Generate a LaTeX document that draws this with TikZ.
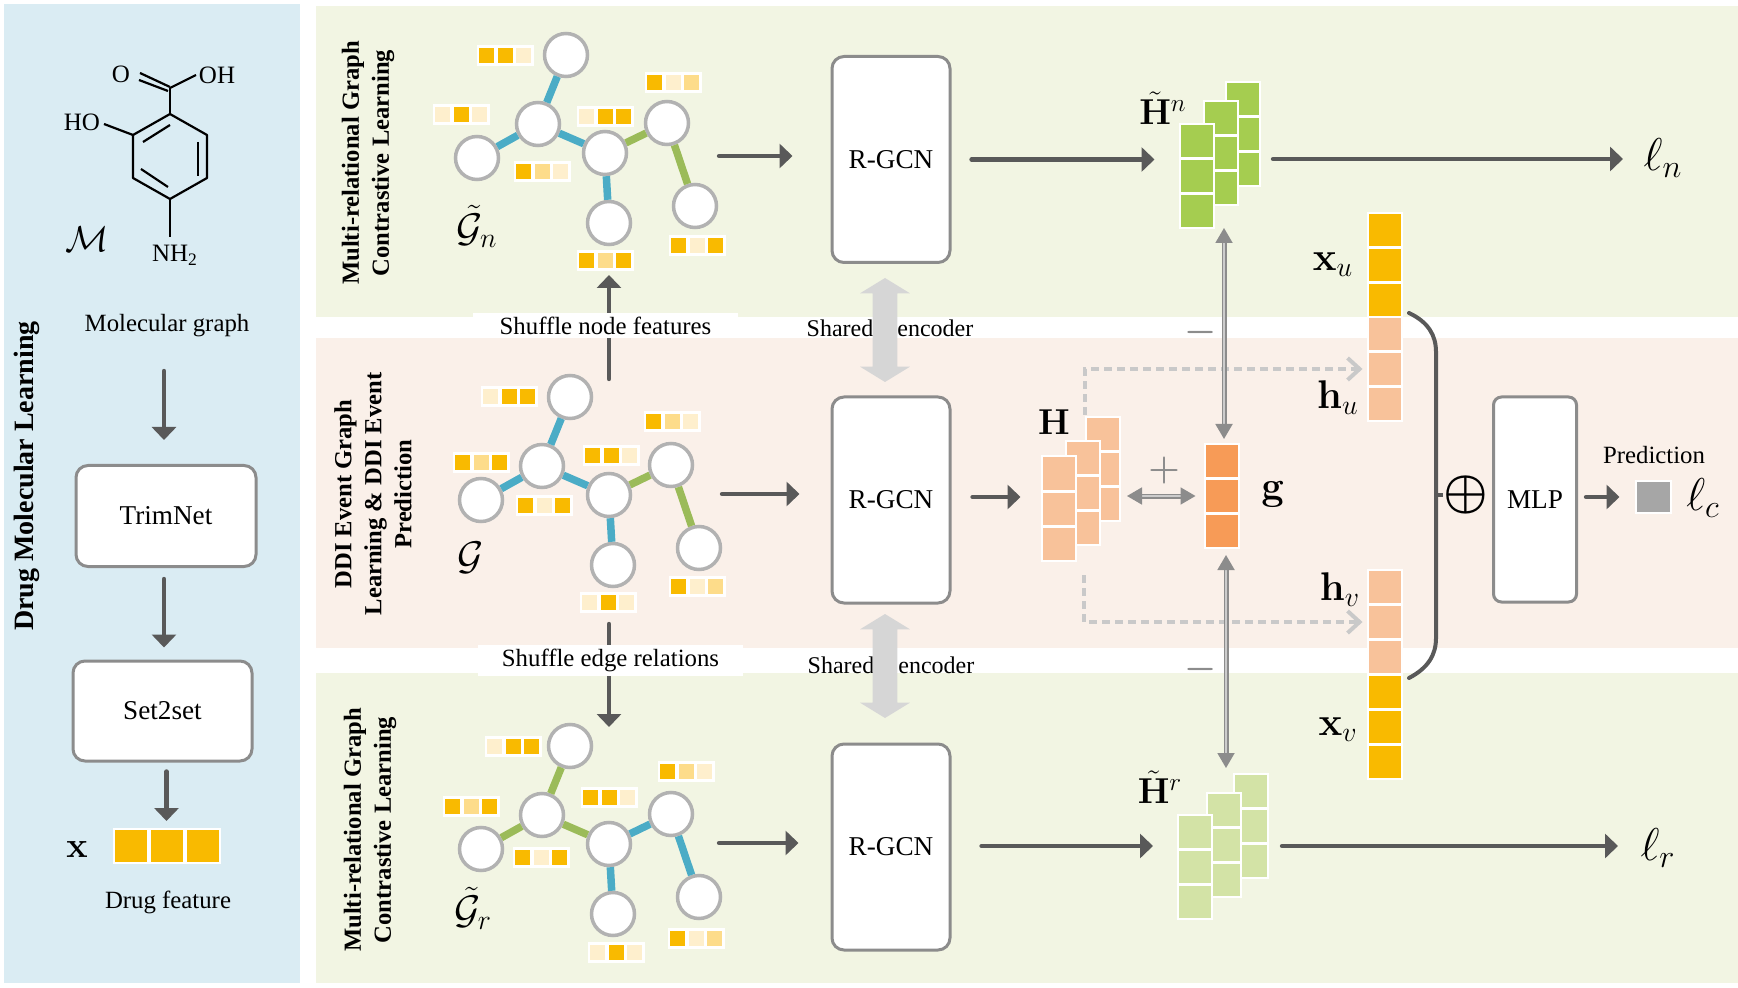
\RequirePackage{fix-cm}
\documentclass[tikz,border=0pt]{standalone}
\usepackage[no-math]{fontspec}
\usepackage{amsmath}
\setmainfont{Liberation Serif}
\usetikzlibrary{shapes,shapes.arrows,arrows.meta,positioning,calc}

\definecolor{panelblue}{HTML}{DAECF3}
\definecolor{bandgreen}{HTML}{F2F5E3}
\definecolor{bandpeach}{HTML}{FAF0E9}
\definecolor{featd}{HTML}{F9BA00}
\definecolor{featm}{HTML}{FDDC8A}
\definecolor{featp}{HTML}{FEEFCD}
\definecolor{relblue}{HTML}{4BACC6}
\definecolor{relgreen}{HTML}{9BBB59}
\definecolor{cellgreen}{HTML}{A5CD50}
\definecolor{cellpale}{HTML}{D3E3A6}
\definecolor{cellpeach}{HTML}{F8C29A}
\definecolor{cellorange}{HTML}{F79B57}
\definecolor{flowgray}{HTML}{595959}
\definecolor{twogray}{HTML}{8C8C8C}
\definecolor{skipgray}{HTML}{C9C9C9}

\tikzset{
    txt/.style={font=\fontsize{12.4}{14}\selectfont, inner sep=0pt},
    box/.style={rectangle, rounded corners=6pt, draw=twogray, line width=1.5pt, fill=white, inner sep=0pt, font=\fontsize{13.6}{15}\selectfont},
    side/.style={rotate=90, align=center, inner sep=0pt, font=\fontsize{12.3}{15}\selectfont\bfseries},
    sym/.style={inner sep=0pt, font=\fontsize{18}{20}\selectfont},
    boldsym/.style={inner sep=0pt, font=\fontsize{20}{22}\selectfont},
    loss/.style={inner sep=0pt, font=\fontsize{23}{25}\selectfont},
    atom/.style={circle, draw=black!30, line width=1.75pt, fill=white, minimum size=21.5pt, inner sep=0pt},
    rel/.style={draw=#1, line width=3.75pt},
    barback/.style={rectangle, fill=white, minimum width=28.5pt, minimum height=10.5pt, inner sep=0pt},
    barcell/.style={rectangle, minimum size=7.5pt, inner sep=0pt},
    cell/.style={rectangle, draw=white, line width=1pt, minimum size=17pt, inner sep=0pt, outer sep=0pt},
    flow/.style={draw=flowgray, line width=2.2pt, line cap=round, -{Triangle[width=12pt,length=6.5pt]}},
    twoway/.style={draw=twogray, line width=0.9pt, double=black!20, double distance=0.7pt, {Triangle[width=8.5pt,length=7.5pt]}-{Triangle[width=8.5pt,length=7.5pt]}},
    skip/.style={draw=skipgray, line width=2.2pt, dash pattern=on 4pt off 2.5pt, -{Straight Barb[width=11pt,length=6pt,line width=2pt]}},
    shared/.style={double arrow, fill=black!16, inner xsep=0pt, inner ysep=6pt, rotate=90, minimum height=52pt, double arrow head extend=6.25pt, double arrow tip angle=117},
    bond/.style={draw=black, line width=1.1pt},
}

% feature bar of three small squares
\newcommand{\featbar}[5]{%
    \node[barback] (#1) at (#2) {};
    \node[barcell, fill=#4] (#1b) at (#1) {};
    \node[barcell, fill=#3, left=1.25pt of #1b] (#1a) {};
    \node[barcell, fill=#5, right=1.25pt of #1b] (#1c) {};
}
% column of three cells
\newcommand{\cellcol}[3]{%
    \node[cell, fill=#3] (#1a) at (#2) {};
    \node[cell, fill=#3, below=0.5pt of #1a] (#1b) {};
    \node[cell, fill=#3, below=0.5pt of #1b] (#1c) {};
}
% seven-node relation graph
\newcommand{\relgraph}[5]{%
    \begin{scope}[shift={(#2)}]
        \node[atom] (#1a) at (566,55) {};
        \node[atom] (#1b) at (538,124) {};
        \node[atom] (#1c) at (477,158) {};
        \node[atom] (#1d) at (605,153) {};
        \node[atom] (#1e) at (667,123) {};
        \node[atom] (#1f) at (695,206) {};
        \node[atom] (#1g) at (609,223) {};
    \end{scope}
    \draw[rel=#3] (#1a) -- (#1b);
    \draw[rel=#3] (#1b) -- (#1c);
    \draw[rel=#3] (#1b) -- (#1d);
    \draw[rel=#4] (#1d) -- (#1g);
    \draw[rel=#5] (#1d) -- (#1e);
    \draw[rel=#5] (#1e) -- (#1f);
}

\begin{document}
\begin{tikzpicture}[x=0.5pt, y=-0.5pt]
    \useasboundingbox (0,0) rectangle (1738,988);

    % panels
    \fill[panelblue] (4,4) rectangle (300,983);
    \fill[bandgreen] (316,6) rectangle (1738,317);
    \fill[bandpeach] (316,338) rectangle (1738,648);
    \fill[bandgreen] (316,673) rectangle (1738,983);

    \node[side, font=\fontsize{14}{16}\selectfont\bfseries] (drugtitle) at (27,476) {Drug Molecular Learning};
    \node[side] (titlen) at (368,163) {Multi-relational Graph\\Contrastive Learning};
    \node[side] (titlem) at (373,494) {DDI Event Graph\\Learning \& DDI Event\\Prediction};
    \node[side] (titler) at (370,830) {Multi-relational Graph\\Contrastive Learning};

    % molecule
    \coordinate (ringa) at (170,114);
    \coordinate (ringb) at (207,135);
    \coordinate (ringc) at (207,178);
    \coordinate (ringd) at (170,199);
    \coordinate (ringe) at (133,178);
    \coordinate (ringf) at (133,135);
    \coordinate (carbon) at (170,88);
    \draw[bond, line join=round] (ringa) -- (ringb) -- (ringc) -- (ringd) -- (ringe) -- (ringf) -- cycle;
    \draw[bond] (143,142) -- (170,125);
    \draw[bond] (198,142) -- (198,176);
    \draw[bond] (141,169) -- (168,187);
    \draw[bond] (ringa) -- (carbon);
    \draw[bond] (carbon) -- (196,75);
    \draw[bond] (170,87) -- (140,73);
    \draw[bond] (168,91) -- (139,80);
    \draw[bond] (ringf) -- (104,124);
    \draw[bond] (ringd) -- (170,237);
    \node[txt, font=\fontsize{12.5}{14}\selectfont] (oxy) at (121,74) {O};
    \node[txt, font=\fontsize{12.5}{14}\selectfont] (oh) at (217,75) {OH};
    \node[txt, font=\fontsize{12.5}{14}\selectfont] (ho) at (82,122) {HO};
    \node[txt, font=\fontsize{12.5}{14}\selectfont] (nh) at (175,255) {NH\textsubscript{2}};
    \node[sym] (molm) at (87,239) {$\mathcal{M}$};
    \node[txt] (molgraph) at (167,326) {Molecular graph};

    % left column
    \node[box, minimum width=90pt, minimum height=50.5pt] (trimnet) at (166,516) {TrimNet};
    \node[box, minimum width=89.5pt, minimum height=50pt] (settoset) at (162.5,711) {Set2set};
    \coordinate (molout) at (164,371);
    \draw[flow, shorten >=12pt] (molout) -- (molout |- trimnet.north);
    \draw[flow, shorten <=5.5pt, shorten >=6pt] (trimnet.south -| 164,0) -- (settoset.north -| 164,0);
    \node[cell, fill=featd] (drugb) at (166.5,846) {};
    \node[cell, fill=featd, left=1pt of drugb] (druga) {};
    \node[cell, fill=featd, right=1pt of drugb] (drugc) {};
    \draw[flow, shorten <=4.5pt, shorten >=4pt] (settoset.south -| drugb.north) -- (drugb.north);
    \node[sym] (xlabel) at (77,849) {$\mathbf{x}$};
    \node[txt] (drugfeat) at (168,902) {Drug feature};

    % graphs
    \relgraph{gn}{0,0}{relblue}{relblue}{relgreen}
    \relgraph{gm}{4,342}{relblue}{relblue}{relgreen}
    \relgraph{gr}{4,691}{relgreen}{relblue}{relblue}

    \featbar{bna}{505,56}{featd}{featd}{featp}
    \featbar{bnb}{461,115}{featp}{featd}{featp}
    \featbar{bnc}{673,83}{featd}{featp}{featm}
    \featbar{bnd}{605,117}{featp}{featd}{featd}
    \featbar{bne}{542,172}{featd}{featm}{featp}
    \featbar{bnf}{605,261}{featd}{featm}{featd}
    \featbar{bng}{697,246}{featd}{featp}{featd}

    \featbar{bma}{509,397}{featp}{featd}{featd}
    \featbar{bmb}{481,463}{featd}{featm}{featd}
    \featbar{bmc}{672,422}{featd}{featm}{featp}
    \featbar{bmd}{611,456}{featd}{featd}{featp}
    \featbar{bme}{544,505}{featd}{featp}{featd}
    \featbar{bmf}{608,602}{featp}{featd}{featp}
    \featbar{bmg}{697,586}{featd}{featp}{featm}

    \featbar{bra}{513,746}{featp}{featd}{featd}
    \featbar{brb}{471,806}{featd}{featm}{featd}
    \featbar{brc}{686,771}{featd}{featm}{featp}
    \featbar{brd}{609,797}{featd}{featd}{featp}
    \featbar{bre}{541,857}{featd}{featp}{featd}
    \featbar{brf}{616,952}{featp}{featd}{featp}
    \featbar{brg}{696,938}{featd}{featp}{featm}

    \node[boldsym] (gtn) at (477,226) {$\tilde{\mathcal{G}}_n$};
    \node[boldsym] (gtm) at (471,558) {$\mathcal{G}$};
    \node[boldsym] (gtr) at (473,908) {$\tilde{\mathcal{G}}_r$};

    % shuffle arrows
    \coordinate (shufup) at (609,379);
    \coordinate (shufdown) at (609,624);
    \draw[flow] (shufup) -- (609,275);
    \draw[flow] (shufdown) -- (609,727);
    \node[txt, fill=white, minimum width=132.5pt, minimum height=12.5pt] (shufn) at (605.5,325.5) {Shuffle node features};
    \node[txt, fill=white, minimum width=132.5pt, minimum height=15.5pt] (shufr) at (610.5,660) {Shuffle edge relations};

    % encoders
    \node[box, minimum width=59pt, minimum height=103pt] (rgcnn) at (891,159.5) {R-GCN};
    \node[box, minimum width=59pt, minimum height=103pt] (rgcnm) at (891,500) {R-GCN};
    \node[box, minimum width=59pt, minimum height=103pt] (rgcnr) at (891,847) {R-GCN};
    \node[txt, font=\fontsize{12}{14}\selectfont] (sharedn) at (890,328) {Shared\hspace{12pt}encoder};
    \node[txt, font=\fontsize{12}{14}\selectfont] (sharedr) at (891,665) {Shared\hspace{12pt}encoder};
    \node[shared] (sharedup) at (885,330) {};
    \node[shared] (shareddown) at (885,666) {};

    \coordinate (outn) at (719,156);
    \coordinate (outm) at (722,494);
    \coordinate (outr) at (719,843);
    \draw[flow, shorten >=19pt] (outn) -- (outn -| rgcnn.west);
    \draw[flow, shorten >=15.5pt] (outm) -- (outm -| rgcnm.west);
    \draw[flow, shorten >=16pt] (outr) -- (outr -| rgcnr.west);

    % cell stacks
    \cellcol{hnc}{1243,99}{cellgreen}
    \cellcol{hnb}{1220.5,118.5}{cellgreen}
    \cellcol{hna}{1196.5,141.5}{cellgreen}
    \cellcol{hmc}{1103,434}{cellpeach}
    \cellcol{hmb}{1082.5,458}{cellpeach}
    \cellcol{hma}{1058.5,473.5}{cellpeach}
    \cellcol{hrc}{1251,791}{cellpale}
    \cellcol{hrb}{1224,810}{cellpale}
    \cellcol{hra}{1195,832}{cellpale}
    \cellcol{gg}{1221.5,461}{cellorange}
    \cellcol{xu}{1384.5,230}{featd}
    \cellcol{hu}{1384.5,334}{cellpeach}
    \cellcol{hv}{1384.5,587}{cellpeach}
    \cellcol{xv}{1384.5,692}{featd}

    \node[sym] (hnlabel) at (1163,108) {$\tilde{\mathbf{H}}^{n}$};
    \node[sym] (hmlabel) at (1054,422) {$\mathbf{H}$};
    \node[sym] (hrlabel) at (1160,787) {$\tilde{\mathbf{H}}^{r}$};
    \node[boldsym] (glabel) at (1273,495) {$\mathbf{g}$};
    \node[boldsym] (xulabel) at (1333,265) {$\mathbf{x}_u$};
    \node[boldsym] (hulabel) at (1338,398) {$\mathbf{h}_u$};
    \node[boldsym] (hvlabel) at (1340,590) {$\mathbf{h}_v$};
    \node[boldsym] (xvlabel) at (1338,730) {$\mathbf{x}_v$};

    % main arrows
    \coordinate (hnend) at (1273,159);
    \coordinate (hrend) at (1282,846);
    \node[loss] (lossn) at (1663,158) {$\ell_n$};
    \node[loss] (lossr) at (1658,848) {$\ell_r$};
    \draw[flow, shorten <=10pt, shorten >=12.5pt] (rgcnn.east) -- (rgcnn.east -| hnaa.west);
    \draw[flow, shorten <=10.5pt, shorten >=10.5pt] (rgcnm.east |- 0,497) -- (hmaa.west |- 0,497);
    \draw[flow, shorten <=15pt, shorten >=12.5pt] (rgcnr.east |- hrend) -- (hraa.west |- hrend);
    \draw[flow] (hnend) -- (1623,159);
    \draw[flow] (hrend) -- (1618,846);

    % skip connections
    \coordinate (skipup) at (1085,415);
    \coordinate (skipdown) at (1084,575);
    \draw[skip, shorten >=2.5pt] (skipup) |- (hub.west);
    \draw[skip, shorten >=2.5pt] (skipdown) |- (hvb.west);

    % contrast arrows
    \coordinate (conup) at (1224,228);
    \coordinate (condown) at (1226,768);
    \coordinate (confuse) at (1127,496);
    \draw[twoway, shorten >=2.5pt] (conup) -- (conup |- gga.north);
    \draw[twoway, shorten <=3.5pt] (condown |- ggc.south) -- (condown);
    \draw[twoway, shorten >=4.5pt] (confuse) -- (ggb.west);
    \node[sym, text=twogray] (plus) at (1164,471) {$\boldsymbol{+}$};
    \node[sym, text=twogray] (minusup) at (1201,333) {$\boldsymbol{-}$};
    \node[sym, text=twogray] (minusdown) at (1201,669) {$\boldsymbol{-}$};

    % readout
    \coordinate (brtop) at (1409,313);
    \coordinate (brbot) at (1409,678);
    \coordinate (brmid) at (1436,495);
    \draw[draw=flowgray, line width=2pt, line cap=round] (brtop) .. controls (1428,322) and (1436,335) .. (1436,352) -- (1436,638) .. controls (1436,655) and (1428,668) .. (brbot);
    \node[inner sep=0pt, font=\fontsize{25}{27}\selectfont] (concat) at (1466,495) {$\boldsymbol{\oplus}$};
    \draw[draw=flowgray, line width=2pt] (brmid) -- (concat.west);
    \node[box, rounded corners=4pt, minimum width=41.5pt, minimum height=102.5pt] (mlp) at (1535,499.5) {MLP};
    \node[cell, fill=black!35, minimum width=17.5pt, minimum height=16pt] (pred) at (1653,497) {};
    \draw[flow, shorten <=4pt, shorten >=8pt] (mlp.east |- pred) -- (pred.west);
    \node[txt] (predlabel) at (1654,455) {Prediction};
    \node[loss] (lossc) at (1703,498) {$\ell_c$};
\end{tikzpicture}
\end{document}
